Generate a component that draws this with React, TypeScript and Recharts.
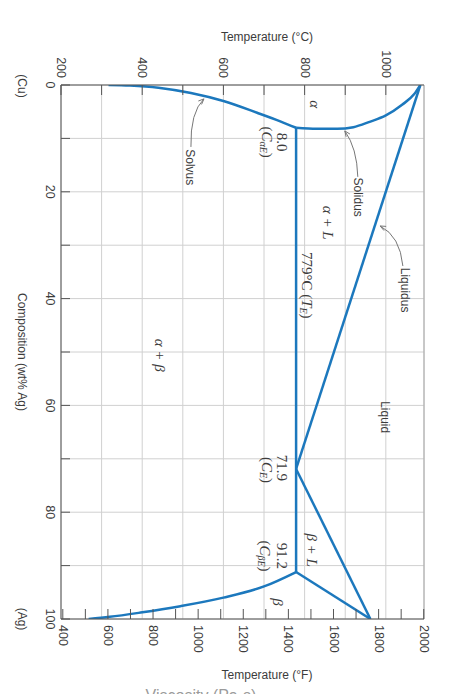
import React from "react";
import { LineChart, Line, XAxis, YAxis, CartesianGrid, ReferenceLine } from "recharts";

// chart is drawn unrotated (composition across, temperature up) and then turned 90deg clockwise
const W = 694;
const H = 472;
const PL = 85;
const PR = 619;
const PT = 48;
const PB = 411;
const T_LO = 200;
const T_HI = 1094;

const BLUE = "#1c78bd";
const AXIS = "#555";
const GRID = "#d0d0d0";
const INK = "#3c3c3c";
const SANS = "'Liberation Sans', Arial, sans-serif";
const SERIF = "'Liberation Serif', 'Times New Roman', serif";

// axes
const compTicks = [0, 10, 20, 30, 40, 50, 60, 70, 80, 90, 100];
const compLabels = [0, 20, 40, 60, 80, 100];
const degCTicks = [200, 300, 400, 500, 600, 700, 800, 900, 1000];
const degCLabels = [200, 400, 600, 800, 1000];
const degFTicks = [400, 500, 600, 700, 800, 900, 1000, 1100, 1200, 1300, 1400, 1500, 1600, 1700, 1800, 1900, 2000];
const degFLabels = [400, 600, 800, 1000, 1200, 1400, 1600, 1800, 2000];

// phase boundaries: composition (wt% Ag) and temperature (°C)
const liqLeftC = [0, 71.9];
const liqLeftT = [1085, 779];
const liqRightC = [71.9, 100];
const liqRightT = [779, 962];
const eutecticC = [8.0, 91.2];
const eutecticT = [779, 779];
const solidusAC = [8.0, 8.2, 8.2, 7.9, 6.9, 5.7, 3.7, 1.7, 0];
const solidusAT = [779, 830, 880, 920, 960, 1000, 1040, 1070, 1085];
const solvusAC = [8.0, 6.8, 5.2, 3.0, 1.5, 0.5, 0.1, 0];
const solvusAT = [779, 740, 683, 600, 520, 440, 370, 317];
const solvusBC = [91.2, 93.9, 96.0, 97.6, 98.8, 99.6, 100];
const solvusBT = [779, 700, 600, 494, 396, 320, 268];
const solidusBC = [91.2, 100];
const solidusBT = [779, 962];

const toPts = (c: number[], t: number[]) => c.map((v, i) => ({ c: v, t: t[i] }));

const boundaries = [
  { key: "liqL", pts: toPts(liqLeftC, liqLeftT), curve: "linear" },
  { key: "liqR", pts: toPts(liqRightC, liqRightT), curve: "linear" },
  { key: "eut", pts: toPts(eutecticC, eutecticT), curve: "linear" },
  { key: "solA", pts: toPts(solidusAC, solidusAT), curve: "monotoneY" },
  { key: "svA", pts: toPts(solvusAC, solvusAT), curve: "monotoneY" },
  { key: "svB", pts: toPts(solvusBC, solvusBT), curve: "monotoneY" },
  { key: "solB", pts: toPts(solidusBC, solidusBT), curve: "linear" },
];

// annotation anchors in data units [wt% Ag, °C]
const solidusArrow = [[17.2, 931], [11.8, 929], [8.6, 899]];
const solvusArrow = [[11.6, 520], [5.1, 518], [2.6, 552]];
const liquidusArrow = [[33.9, 1042], [28.3, 1035], [26.4, 986]];

const sx = (c: number) => PL + (c / 100) * (PR - PL);
const sy = (t: number) => PB - ((t - T_LO) / (T_HI - T_LO)) * (PB - PT);

function Arrow({ p }: { p: number[][] }) {
  const [x0, y0] = [sx(p[0][0]), sy(p[0][1])];
  const [x1, y1] = [sx(p[1][0]), sy(p[1][1])];
  const [x2, y2] = [sx(p[2][0]), sy(p[2][1])];
  const ang = Math.atan2(y2 - y1, x2 - x1) + Math.PI;
  const h = 6;
  const a = [ang - 0.4, ang + 0.4].map((q) => `${x2 + h * Math.cos(q)},${y2 + h * Math.sin(q)}`);
  return (
    <g fill="none" stroke="#777" strokeWidth={1}>
      <path d={`M${x0},${y0} Q${x1},${y1} ${x2},${y2}`} />
      <polyline points={`${a[0]} ${x2},${y2} ${a[1]}`} />
    </g>
  );
}

function Lbl({ c, t, serif, italic, size, children }: any) {
  return (
    <text
      x={sx(c)}
      y={sy(t)}
      textAnchor="middle"
      dominantBaseline="central"
      fontFamily={serif ? SERIF : SANS}
      fontStyle={italic ? "italic" : "normal"}
      fontSize={size || 12}
      fill={INK}
    >
      {children}
    </text>
  );
}

const CTick = (props: any) => {
  const { y, payload } = props;
  return (
    <g>
      <line x1={PL} x2={PL + 10} y1={y} y2={y} stroke={AXIS} />
      {degCLabels.includes(payload.value) && (
        <text x={PL - 7} y={y} textAnchor="end" dominantBaseline="central" fontFamily={SANS} fontSize={12.5} fill={INK}>
          {payload.value}
        </text>
      )}
    </g>
  );
};

const FTick = (props: any) => {
  const { y, payload } = props;
  return (
    <g>
      <line x1={PR - 10} x2={PR} y1={y} y2={y} stroke={AXIS} />
      {degFLabels.includes(payload.value) && (
        <text x={PR + 6} y={y} textAnchor="start" dominantBaseline="central" fontFamily={SANS} fontSize={12.5} fill={INK}>
          {payload.value}
        </text>
      )}
    </g>
  );
};

const CompTick = (props: any) => {
  const { x, payload } = props;
  return (
    <g>
      <line x1={x} x2={x} y1={PB} y2={PB - 9} stroke={AXIS} />
      {compLabels.includes(payload.value) && (
        <text x={x} y={422} textAnchor="middle" dominantBaseline="central" fontFamily={SANS} fontSize={12.5} fill={INK}>
          {payload.value}
        </text>
      )}
    </g>
  );
};

export default function App() {
  return (
    <div style={{ position: "absolute", left: 0, top: 0, width: 472, height: 694, overflow: "hidden", background: "#fff" }}>
      <div
        style={{
          position: "absolute",
          left: 0,
          top: 0,
          width: W,
          height: H,
          transformOrigin: "0 0",
          transform: "translateX(472px) rotate(90deg)",
        }}
      >
        <LineChart width={W} height={H} margin={{ top: PT, left: 25, right: 15, bottom: 21 }}>
          <CartesianGrid stroke={GRID} strokeWidth={1} />
          <XAxis
            dataKey="c"
            type="number"
            domain={[0, 100]}
            ticks={compTicks}
            interval={0}
            height={40}
            tickLine={false}
            axisLine={{ stroke: AXIS }}
            tick={<CompTick />}
            allowDataOverflow
          />
          <YAxis
            type="number"
            domain={[T_LO, T_HI]}
            ticks={degCTicks}
            interval={0}
            width={60}
            tickLine={false}
            axisLine={{ stroke: AXIS }}
            tick={<CTick />}
            allowDataOverflow
          />
          <YAxis
            yAxisId="f"
            orientation="right"
            type="number"
            domain={[T_LO * 1.8 + 32, T_HI * 1.8 + 32]}
            ticks={degFTicks}
            interval={0}
            width={60}
            tickLine={false}
            axisLine={{ stroke: AXIS }}
            tick={<FTick />}
            allowDataOverflow
          />
          <ReferenceLine y={T_HI} stroke="#a8a8a8" />
          {boundaries.map((b) => (
            <Line
              key={b.key}
              data={b.pts}
              dataKey="t"
              type={b.curve as any}
              stroke={BLUE}
              strokeWidth={2.5}
              dot={false}
              activeDot={false}
              isAnimationActive={false}
            />
          ))}
        </LineChart>
        <svg width={W} height={H} style={{ position: "absolute", left: 0, top: 0, pointerEvents: "none" }}>
          <text transform="translate(37,205) rotate(-90)" textAnchor="middle" dominantBaseline="central" fontFamily={SANS} fontSize={12} fill={INK}>
            Temperature (°C)
          </text>
          <text transform="translate(675,205) rotate(-90)" textAnchor="middle" dominantBaseline="central" fontFamily={SANS} fontSize={12} fill={INK}>
            Temperature (°F)
          </text>
          <text x={352} y={450} textAnchor="middle" dominantBaseline="central" fontFamily={SANS} fontSize={12} fill={INK}>
            Composition (wt% Ag)
          </text>
          <text x={86} y={450} textAnchor="middle" dominantBaseline="central" fontFamily={SANS} fontSize={12} fill={INK}>
            (Cu)
          </text>
          <text x={619} y={450} textAnchor="middle" dominantBaseline="central" fontFamily={SANS} fontSize={12} fill={INK}>
            (Ag)
          </text>

          <Arrow p={solidusArrow} />
          <Arrow p={solvusArrow} />
          <Arrow p={liquidusArrow} />

          <Lbl c={3.6} t={826} serif italic size={15}>α</Lbl>
          <Lbl c={10.7} t={744} serif size={15}>8.0</Lbl>
          <Lbl c={10.7} t={707} serif size={15}>
            (<tspan fontStyle="italic">C</tspan>
            <tspan fontStyle="italic" fontSize={10} dy={3}>αE</tspan>
            <tspan dy={-3}>)</tspan>
          </Lbl>
          <Lbl c={21.0} t={931}>Solidus</Lbl>
          <Lbl c={15.4} t={518}>Solvus</Lbl>
          <Lbl c={25.8} t={858} serif italic size={15}>α + L</Lbl>
          <Lbl c={37.5} t={806} serif size={15}>
            779°C (<tspan fontStyle="italic">T</tspan>
            <tspan fontStyle="italic" fontSize={10} dy={3}>E</tspan>
            <tspan dy={-3}>)</tspan>
          </Lbl>
          <Lbl c={38.4} t={1047}>Liquidus</Lbl>
          <Lbl c={62.2} t={998}>Liquid</Lbl>
          <Lbl c={50.6} t={444} serif italic size={15}>α + β</Lbl>
          <Lbl c={71.7} t={744} serif size={15}>71.9</Lbl>
          <Lbl c={72.1} t={707} serif size={15}>
            (<tspan fontStyle="italic">C</tspan>
            <tspan fontStyle="italic" fontSize={10} dy={3}>E</tspan>
            <tspan dy={-3}>)</tspan>
          </Lbl>
          <Lbl c={88.2} t={744} serif size={15}>91.2</Lbl>
          <Lbl c={88.2} t={702} serif size={15}>
            (<tspan fontStyle="italic">C</tspan>
            <tspan fontStyle="italic" fontSize={10} dy={3}>βE</tspan>
            <tspan dy={-3}>)</tspan>
          </Lbl>
          <Lbl c={87.1} t={818} serif italic size={15}>β + L</Lbl>
          <Lbl c={96.8} t={734} serif italic size={15}>β</Lbl>
        </svg>
      </div>
      <div
        style={{
          position: "absolute",
          left: 0,
          top: 688,
          width: 402,
          textAlign: "center",
          fontFamily: SANS,
          fontSize: 16,
          lineHeight: "16px",
          color: "#9a9a9a",
          whiteSpace: "nowrap",
        }}
      >
        Viscosity (Pa·s)
      </div>
    </div>
  );
}
